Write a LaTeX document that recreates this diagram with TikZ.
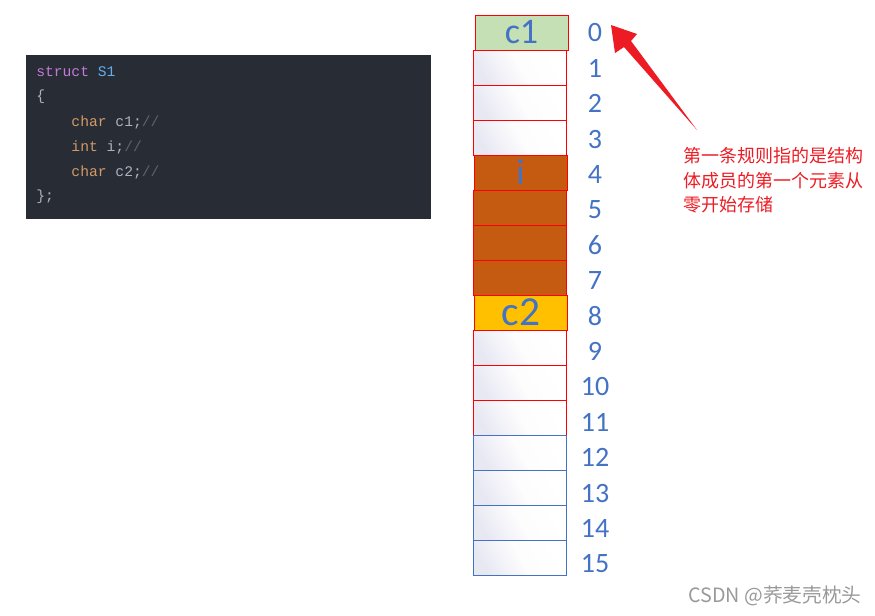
\documentclass[tikz,border=0pt]{standalone}
\usepackage{fontspec}
\setmainfont{Carlito}
\setmonofont{Liberation Mono}
\newfontfamily\cjk{Noto Sans CJK SC}
\definecolor{codebg}{HTML}{282C34}
\definecolor{kwpurple}{HTML}{C678DD}
\definecolor{kwblue}{HTML}{61AFEF}
\definecolor{kworange}{HTML}{D19A66}
\definecolor{codegrey}{HTML}{ABB2BF}
\definecolor{cmtgrey}{HTML}{5C6370}
\definecolor{numblue}{HTML}{4472C4}
\definecolor{cellred}{HTML}{FF0000}
\definecolor{arrred}{HTML}{ED1C24}
\definecolor{cgreen}{HTML}{C5E0B4}
\definecolor{cbrown}{HTML}{C55A11}
\definecolor{cgold}{HTML}{FFC000}
\definecolor{lav}{HTML}{E8E8F3}
\definecolor{wmgrey}{HTML}{9A9A9A}
\tikzset{
  cell/.style={rectangle, draw=cellred, line width=0.75pt, minimum width=69.75pt, minimum height=26.25pt, inner sep=0pt},
  emptycell/.style={cell, left color=lav, right color=white, middle color=white!90!lav, shading angle=120},
  bluecell/.style={emptycell, draw=numblue},
  celltext/.style={text=numblue, font=\fontsize{27}{27}\selectfont},
  idx/.style={text=numblue, font=\fontsize{21}{21}\selectfont, inner sep=0pt},
  code/.style={anchor=west, inner sep=0pt, font=\ttfamily\fontsize{11}{12}\selectfont},
  note/.style={anchor=north west, inner sep=0pt, text=arrred, font=\cjk\fontsize{13.5}{18.5}\selectfont, align=left}
}
\begin{document}
\begin{tikzpicture}[x=0.75pt,y=-0.75pt]
\useasboundingbox (0,0) rectangle (875,615);
\fill[white] (0,0) rectangle (875,615);
% code block
\node[fill=codebg, minimum width=303.75pt, minimum height=123pt, inner sep=0pt, anchor=north west] (codebox) at (26,55) {};
\node[code] (l1) at (36,72) {\textcolor{kwpurple}{struct} \textcolor{kwblue}{S1}};
\node[code] (l2) at (36,97) {\textcolor{codegrey}{\{}};
\node[code] (l3) at (36,122) {\textcolor{codegrey}{\ \ \ \ }\textcolor{kworange}{char} \textcolor{codegrey}{c1;}\textcolor{cmtgrey}{//}};
\node[code] (l4) at (36,147) {\textcolor{codegrey}{\ \ \ \ }\textcolor{kworange}{int} \textcolor{codegrey}{i;}\textcolor{cmtgrey}{//}};
\node[code] (l5) at (36,172) {\textcolor{codegrey}{\ \ \ \ }\textcolor{kworange}{char} \textcolor{codegrey}{c2;}\textcolor{cmtgrey}{//}};
\node[code] (l6) at (36,197) {\textcolor{codegrey}{\};}};
% memory cells
\node[cell, fill=cgreen, celltext] (m0) at (521.5,32.5) {c1};
\node[emptycell] (m1) at (520,67.5) {};
\node[emptycell] (m2) at (520,102.5) {};
\node[emptycell] (m3) at (520,137.5) {};
\node[cell, fill=cbrown, celltext] (m4) at (520.5,172.5) {i};
\node[cell, fill=cbrown] (m5) at (520,207.5) {};
\node[cell, fill=cbrown] (m6) at (520,242.5) {};
\node[cell, fill=cbrown] (m7) at (520,277.5) {};
\node[cell, fill=cgold, celltext, font=\fontsize{31}{31}\selectfont] (m8) at (521,312.5) {c2};
\node[emptycell] (m9) at (520,347.5) {};
\node[emptycell] (m10) at (520,382.5) {};
\node[emptycell] (m11) at (520,417.5) {};
\node[bluecell] (m12) at (520,452.5) {};
\node[bluecell] (m13) at (520,487.5) {};
\node[bluecell] (m14) at (520,522.5) {};
\node[bluecell] (m15) at (520,557.5) {};
% indices
\foreach \k in {0,...,15}{
  \node[idx] (n\k) at (595,{33+35.4*\k}) {\k};
}
% arrow
\fill[arrred] (697,130) -- (624,47) -- (615,53) -- (611,25) -- (637,34) -- (631,41) -- cycle;
% note
\node[note] (note) at (683,147) {第一条规则指的是结构\\体成员的第一个元素从\\零开始存储};
% watermark
\node[anchor=west, inner sep=0pt, text=wmgrey, font=\cjk\fontsize{14.8}{14.8}\selectfont] (wm) at (688,596) {CSDN @荞麦壳枕头};
\end{tikzpicture}
\end{document}
